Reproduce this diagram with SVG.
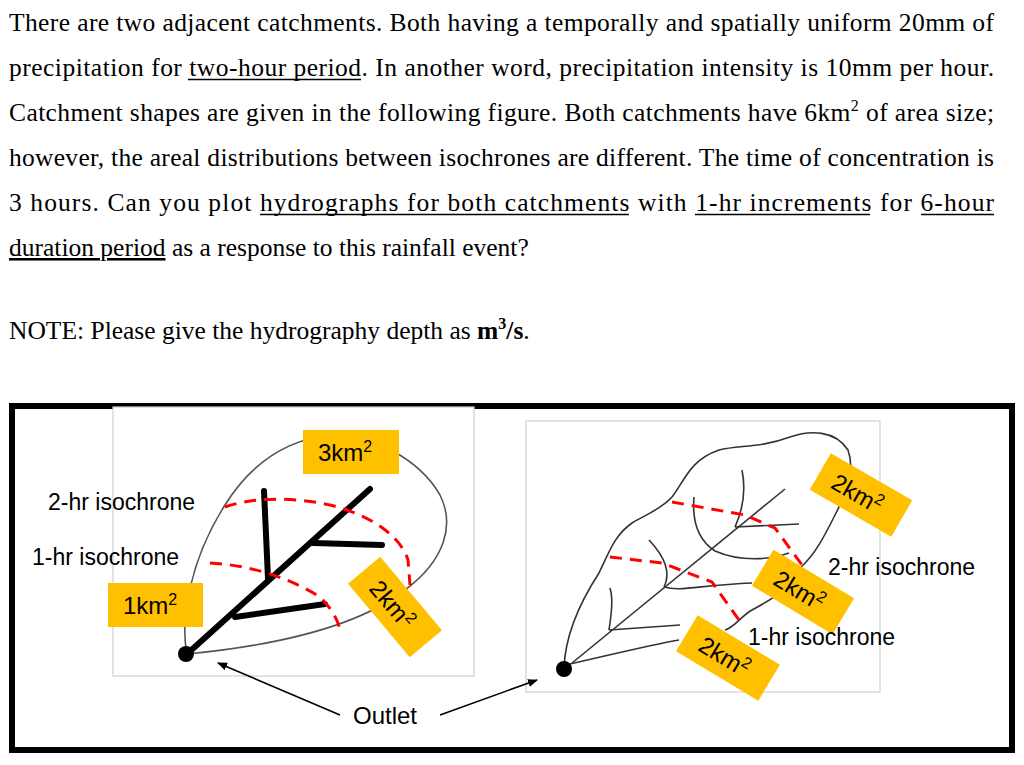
<svg xmlns="http://www.w3.org/2000/svg" width="1024" height="765" viewBox="0 0 1024 765">
<style>
.p{font-family:"Liberation Serif","Times New Roman",serif;font-size:25.5px;fill:#000}
.u{text-decoration:underline}
.ul{stroke:#000;stroke-width:1.3}
.l{font-family:"Liberation Sans",Arial,sans-serif;fill:#000;font-size:23px}
.lab{font-family:"Liberation Sans",Arial,sans-serif;font-size:24px;fill:#000}
.box{fill:#FFC000}
.red{fill:none;stroke:#f00;stroke-width:3;stroke-dasharray:12 8}
.thin{fill:none;stroke:#333;stroke-width:1.6}
.frame{fill:#fff;stroke:#d0d0d0;stroke-width:1.2}
</style>
<defs><marker id="ah" markerWidth="10" markerHeight="8" refX="9" refY="4" orient="auto" markerUnits="userSpaceOnUse"><path d="M0,0 L10,4 L0,8 z" fill="#000"/></marker></defs>
<rect width="1024" height="765" fill="#fff"/>
<g id="text">
<text class="p" x="9" y="31" textLength="985" lengthAdjust="spacing">There are two adjacent catchments. Both having a temporally and spatially uniform 20mm of</text>
<text class="p" x="9" y="76" textLength="985" lengthAdjust="spacing">precipitation for two-hour period. In another word, precipitation intensity is 10mm per hour.</text>
<text class="p" x="9" y="121" textLength="985" lengthAdjust="spacing">Catchment shapes are given in the following figure. Both catchments have 6km<tspan font-size="16" dy="-10">2</tspan><tspan dy="10"> of area size;</tspan></text>
<text class="p" x="9" y="166" textLength="985" lengthAdjust="spacing">however, the areal distributions between isochrones are different. The time of concentration is</text>
<text class="p" x="9" y="211" textLength="985" lengthAdjust="spacing">3 hours. Can you plot hydrographs for both catchments with 1-hr increments for 6-hour</text>
<text class="p" x="9" y="256"><tspan class="u">duration period</tspan> as a response to this rainfall event?</text>
<text class="p" x="9" y="339">NOTE: Please give the hydrography depth as <tspan font-weight="bold">m<tspan font-size="16" dy="-10">3</tspan><tspan dy="10">/s</tspan></tspan>.</text>
<path class="ul" d="M188,79.5 H361 M260,214.5 H629 M695,214.5 H870 M921,214.5 H994"/>
</g>
<rect x="12" y="406" width="1000" height="344" fill="#fff" stroke="#000" stroke-width="6"/>
<g id="left-catchment">
<rect class="frame" x="113" y="407" width="361" height="269"/>
<path d="M187,654 C180,620 190,560 225,505 C250,465 285,440 330,435 C370,432 420,460 440,495 C455,525 445,560 405,590 C360,625 280,645 187,654 Z" fill="none" stroke="#555" stroke-width="1.6"/>
<g stroke="#000" stroke-linecap="round" stroke-width="6" fill="none">
<path d="M187,654 L370,489"/>
<path d="M264,491 L268,578"/>
<path d="M313,543 L382,545"/>
<path d="M235,617 L325,604"/>
</g>
<path class="red" d="M225,507 C250,498 290,496 330,505 C370,515 400,535 408,560 L410,585"/>
<path class="red" d="M210,563 C250,565 290,578 320,597 C330,607 337,617 340,630"/>
<circle cx="186" cy="654" r="8" fill="#000"/>
</g>
<g id="right-catchment">
<rect class="frame" x="526" y="421" width="354" height="271"/>
<path d="M564,668 C565,640 575,610 599,573 C610,550 615,535 632,523 C645,515 660,510 672,497 C685,480 690,460 719,450 C740,445 760,448 790,437 C810,430 835,430 848,450 C855,470 848,490 835,515 C825,535 815,555 800,568 C790,590 770,600 752,610 C740,617 735,627 725,630" fill="none" stroke="#333" stroke-width="1.6"/>
<g class="thin">
<path d="M572,663 L785,489"/>
<path d="M570,664 C610,655 650,645 679,640"/>
<path d="M609,630 L680,625"/>
<path d="M609,630 C612,610 613,598 610,588"/>
<path d="M664,587 C680,592 700,585 752,583"/>
<path d="M664,587 C670,575 668,560 649,540"/>
<path d="M735,527 L799,524"/>
<path d="M735,527 C745,505 745,485 742,470"/>
<path d="M694,497 C692,520 698,540 715,551 C740,562 770,560 789,553"/>
</g>
<path class="red" d="M672,502 L745,515 L775,528 L802,565"/>
<path class="red" d="M610,557 L662,563 L712,582 L739,620"/>
<circle cx="564" cy="669" r="8" fill="#000"/>
</g>
<g id="labels">
<g id="l3km"><rect class="box" x="303" y="430" width="96" height="44"/><text class="lab" x="345" y="461" text-anchor="middle">3km<tspan font-size="16" dy="-9">2</tspan></text></g>
<g id="l1km"><rect class="box" x="108" y="583" width="95" height="44"/><text class="lab" x="150" y="614" text-anchor="middle">1km<tspan font-size="16" dy="-9">2</tspan></text></g>
<g id="l2kmL" transform="translate(395,607) rotate(50)"><rect class="box" x="-48" y="-21" width="96" height="42"/><text class="lab" x="-4" y="9" text-anchor="middle">2km<tspan font-size="16" dy="-9">2</tspan></text></g>
<g id="l2kmR1" transform="translate(861,495) rotate(30)"><rect class="box" x="-47" y="-21" width="94" height="42"/><text class="lab" x="-4" y="9" text-anchor="middle">2km<tspan font-size="16" dy="-9">2</tspan></text></g>
<g id="l2kmR2" transform="translate(803,592) rotate(31)"><rect class="box" x="-47" y="-21" width="94" height="42"/><text class="lab" x="-4" y="9" text-anchor="middle">2km<tspan font-size="16" dy="-9">2</tspan></text></g>
<g id="l2kmR3" transform="translate(728,658) rotate(31)"><rect class="box" x="-48" y="-21" width="96" height="42"/><text class="lab" x="-4" y="9" text-anchor="middle">2km<tspan font-size="16" dy="-9">2</tspan></text></g>
<text class="l" x="48" y="510">2-hr isochrone</text>
<text class="l" x="32" y="565">1-hr isochrone</text>
<text class="l" x="828" y="575">2-hr isochrone</text>
<text class="l" x="748" y="645">1-hr isochrone</text>
<text class="lab" x="353" y="724">Outlet</text>
</g>
<g id="connectors" stroke="#000" stroke-width="1.6" fill="none">
<path d="M340,715 L218,663" marker-end="url(#ah)"/>
<path d="M440,715 L537,680" marker-end="url(#ah)"/>
</g>
</svg>
